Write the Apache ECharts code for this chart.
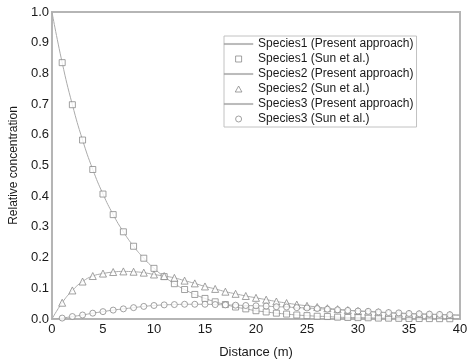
<!DOCTYPE html>
<html><head><meta charset="utf-8">
<script src="https://cdn.jsdelivr.net/npm/echarts@6/dist/echarts.min.js"></script>
<style>html,body{margin:0;padding:0;background:#fff}#c{width:474px;height:364px}</style>
</head><body><div id="c"></div>
<script>
const distance = [0,1,2,3,4,5,6,7,8,9,10,11,12,13,14,15,16,17,18,19,20,21,22,23,24,25,26,27,28,29,30,31,32,33,34,35,36,37,38,39,40];
const species1 = [1.0,0.835,0.698,0.583,0.487,0.407,0.340,0.284,0.237,0.198,0.165,0.138,0.115,0.096,0.080,0.067,0.056,0.047,0.039,0.033,0.027,0.023,0.019,0.016,0.013,0.011,0.009,0.008,0.006,0.005,0.0045,0.004,0.003,0.0027,0.0022,0.0018,0.0015,0.0013,0.0011,0.0009,0.0007];
const species2 = [0,0.053,0.093,0.122,0.140,0.148,0.153,0.155,0.154,0.151,0.145,0.140,0.134,0.125,0.116,0.106,0.098,0.089,0.082,0.075,0.069,0.063,0.057,0.052,0.047,0.043,0.039,0.035,0.032,0.029,0.026,0.024,0.022,0.020,0.018,0.017,0.016,0.015,0.014,0.013,0.012];
const species3 = [0,0.003,0.008,0.013,0.019,0.024,0.029,0.033,0.037,0.041,0.044,0.046,0.047,0.048,0.048,0.048,0.047,0.046,0.045,0.044,0.043,0.042,0.040,0.039,0.037,0.036,0.034,0.032,0.030,0.028,0.026,0.025,0.023,0.021,0.020,0.018,0.017,0.016,0.015,0.014,0.013];
const seriesNames = ['Species1 (Present approach)','Species1 (Sun et al.)','Species2 (Present approach)','Species2 (Sun et al.)','Species3 (Present approach)','Species3 (Sun et al.)'];
const xTicks = [0,5,10,15,20,25,30,35,40];
const yTicks = [0.0,0.1,0.2,0.3,0.4,0.5,0.6,0.7,0.8,0.9,1.0];

const lineData = arr => distance.map((d,i)=>[d,arr[i]]);
const markData = arr => distance.map((d,i)=>[d,arr[i]]).filter(p=>p[0]>=1 && p[0]<=39);
const font = 'Liberation Sans, Arial, sans-serif';
const lineStyle = {color:'#ababab', width:1};
const mk = (name, arr, sym) => ({name, type:'scatter', data:markData(arr), symbol:sym, symbolSize: sym==='triangle'?7:6,
  itemStyle:{color:'#fff', borderColor:'#8a8a8a', borderWidth:1}, z:3});
const ln = (name, arr) => ({name, type:'line', data:lineData(arr), smooth:true, symbol:'none', showSymbol:false, lineStyle, itemStyle:{color:'#ababab'}, z:2});

const lineIcon = 'path://M0,0H29V1.2H0Z';
const markIcon = {
  rect:'path://M0,0H10V10H0Z',
  triangle:'path://M5,0L10,9L0,9Z',
  circle:'path://M5,0A5,5,0,1,1,4.99,0Z'
};
const legendMark = (name, sym) => ({name, icon:markIcon[sym], itemStyle:{color:'#fff', borderColor:'#8a8a8a', borderWidth:1}});
const legendLine = name => ({name, icon:lineIcon, itemStyle:{color:'#9a9a9a', borderColor:'#9a9a9a', borderWidth:0.2}});

const chart = echarts.init(document.getElementById('c'));
chart.setOption({
  animation:false,
  textStyle:{fontFamily:font},
  grid:{left:37, right:14, top:12, bottom:40, show:true, borderColor:'#b5b5b5', borderWidth:2},
  legend:{
    orient:'vertical', left:224, top:36, itemWidth:29, itemHeight:6, itemGap:3,
    padding:[2,3,2,0], borderColor:'#c2c2c2', borderWidth:1,
    textStyle:{fontFamily:font, fontSize:12, color:'#1a1a1a'},
    data: [legendLine(seriesNames[0]), legendMark(seriesNames[1],'rect'),
           legendLine(seriesNames[2]), legendMark(seriesNames[3],'triangle'),
           legendLine(seriesNames[4]), legendMark(seriesNames[5],'circle')]
  },
  xAxis:{type:'value', min:0, max:40, interval:5,
    name:'Distance (m)', nameLocation:'middle', nameGap:27,
    nameTextStyle:{fontFamily:font, fontSize:13, color:'#1a1a1a'},
    axisLine:{lineStyle:{color:'#b5b5b5', width:2}}, axisTick:{show:false}, splitLine:{show:false},
    axisLabel:{fontFamily:font, fontSize:13, color:'#1a1a1a', margin:4,
      formatter:v=>xTicks.includes(v)?String(v):''}},
  yAxis:{type:'value', min:0, max:1, interval:0.1,
    name:'Relative concentration', nameLocation:'middle', nameGap:30,
    nameTextStyle:{fontFamily:font, fontSize:12, color:'#1a1a1a'},
    axisLine:{lineStyle:{color:'#b5b5b5', width:2}}, axisTick:{show:false}, splitLine:{show:false},
    axisLabel:{fontFamily:font, fontSize:13, color:'#1a1a1a', margin:3,
      formatter:v=>{const t=yTicks.find(y=>Math.abs(y-v)<1e-6);return t===undefined?'':t.toFixed(1);}}},
  series:[
    ln(seriesNames[0], species1), mk(seriesNames[1], species1, 'rect'),
    ln(seriesNames[2], species2), mk(seriesNames[3], species2, 'triangle'),
    ln(seriesNames[4], species3), mk(seriesNames[5], species3, 'circle')
  ]
});
</script></body></html>
